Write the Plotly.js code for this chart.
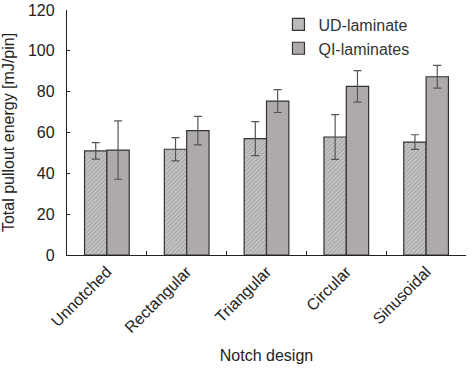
<!DOCTYPE html>
<html><head><meta charset="utf-8">
<script src="https://cdn.plot.ly/plotly-3.0.1.min.js"></script>
<style>html,body{margin:0;padding:0;background:#fff}</style>
</head><body>
<div id="chart" style="width:474px;height:369px"></div>
<script>
const categories = ["Unnotched", "Rectangular", "Triangular", "Circular", "Sinusoidal"];
const udValues = [51.0, 51.8, 57.0, 57.8, 55.3];
const udErrors = [4.0, 5.7, 8.3, 11.0, 3.6];
const qiValues = [51.4, 60.9, 75.4, 82.6, 87.3];
const qiErrors = [14.3, 7.0, 5.6, 7.7, 5.6];
const yTicks = [0, 20, 40, 60, 80, 100, 120];

const fam = "Liberation Sans, Arial, sans-serif";
const errStyle = {type: "data", visible: true, color: "#555", thickness: 1.2, width: 4};

const traces = [
  {type: "bar", name: "UD-laminate", x: categories, y: udValues,
   error_y: Object.assign({array: udErrors}, errStyle),
   marker: {color: "#c4c2c2", line: {color: "#333", width: 1.2},
            pattern: {shape: "/", fgcolor: "#a09e9e", bgcolor: "#c4c2c2", size: 3, solidity: 0.3}}},
  {type: "bar", name: "QI-laminates", x: categories, y: qiValues,
   error_y: Object.assign({array: qiErrors}, errStyle),
   marker: {color: "#aeaaaa", line: {color: "#333", width: 1.2}}}
];

const layout = {
  width: 474, height: 369,
  margin: {l: 67, r: 8, t: 10, b: 114},
  paper_bgcolor: "#fff", plot_bgcolor: "#fff",
  font: {family: fam, size: 16, color: "#222"},
  barmode: "group", bargap: 0.44, bargroupgap: 0,
  showlegend: true,
  legend: {x: 0.53, y: 1.01, xanchor: "left", yanchor: "top", bgcolor: "rgba(0,0,0,0)",
           font: {family: fam, size: 16, color: "#333"}, itemwidth: 30, tracegroupgap: 0},
  xaxis: {
    type: "category", showline: true, linecolor: "#222", linewidth: 1.2,
    ticks: "inside", ticklen: 4, tickcolor: "#222", tickson: "boundaries",
    tickangle: -45, tickfont: {family: fam, size: 16, color: "#222"},
    showgrid: false, zeroline: false,
    title: {text: "Notch design", font: {family: fam, size: 16, color: "#222"}, standoff: 14}
  },
  yaxis: {
    range: [0, 120], tickvals: yTicks, ticktext: yTicks.map(String),
    showline: true, linecolor: "#222", linewidth: 1.2,
    ticks: "inside", ticklen: 3, tickcolor: "#222", ticklabelstandoff: 8,
    tickfont: {family: fam, size: 16, color: "#222"},
    showgrid: false, zeroline: false,
    title: {text: "Total pullout energy [mJ/pin]", font: {family: fam, size: 16, color: "#222"}, standoff: 11}
  }
};

Plotly.newPlot("chart", traces, layout, {displayModeBar: false, staticPlot: true});
</script>
</body></html>
